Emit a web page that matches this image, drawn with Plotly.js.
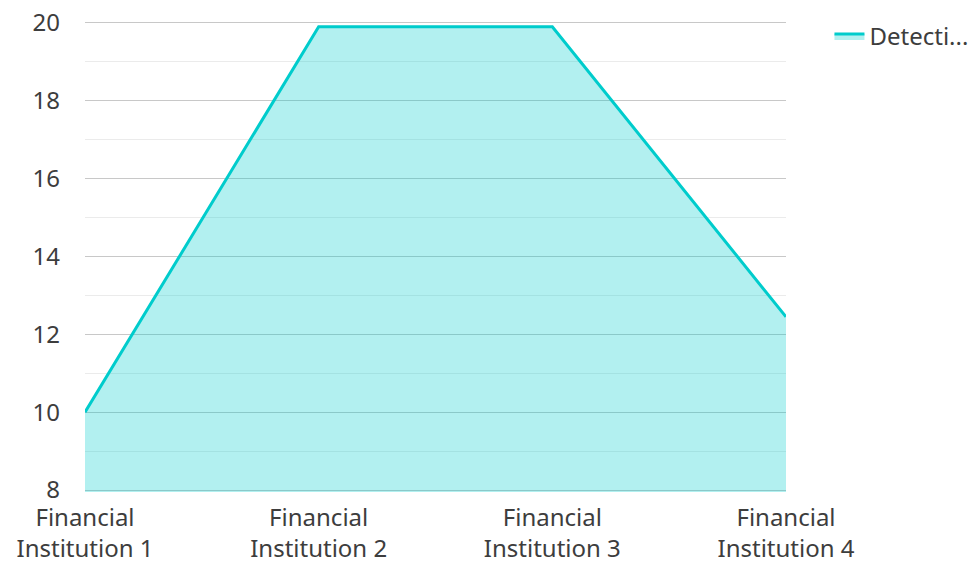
<!DOCTYPE html>
<html>
<head>
<meta charset="utf-8">
<script src="https://cdn.plot.ly/plotly-3.0.1.min.js"></script>
<style>html,body{margin:0;padding:0;background:#fff;}#chart{width:973px;height:562px;}</style>
</head>
<body>
<div id="chart"></div>
<script>
const categories = ["Financial<br>Institution 1", "Financial<br>Institution 2", "Financial<br>Institution 3", "Financial<br>Institution 4"];
const detectionValues = [10, 19.9, 19.9, 12.45];
const seriesName = "Detecti...";
const yTickVals = [8, 10, 12, 14, 16, 18, 20];

const trace = {
  x: categories,
  y: detectionValues,
  type: "scatter",
  mode: "lines",
  name: seriesName,
  fill: "tozeroy",
  fillcolor: "rgba(0,204,204,0.3)",
  line: {color: "#00cccc", width: 3}
};

const layout = {
  width: 973,
  height: 562,
  margin: {l: 85, r: 187, t: 21, b: 70, autoexpand: false},
  paper_bgcolor: "#ffffff",
  plot_bgcolor: "#ffffff",
  font: {family: "Noto Sans, Open Sans, sans-serif", size: 24, color: "#3d3d3d"},
  showlegend: true,
  legend: {x: 1.062, y: 1.015, xanchor: "left", yanchor: "top", font: {size: 24, color: "#3d3d3d"}},
  xaxis: {
    type: "category",
    range: [0, 3],
    automargin: false,
    showgrid: false,
    zeroline: false,
    showline: false,
    ticks: "",
    ticklabelstandoff: 9,
    tickfont: {size: 24, color: "#3d3d3d"}
  },
  yaxis: {
    range: [7.95, 20.05],
    tickvals: yTickVals,
    automargin: false,
    showgrid: true,
    gridcolor: "#c8c8c8",
    gridwidth: 1,
    zeroline: false,
    showline: false,
    ticks: "",
    ticklen: 0,
    ticklabelstandoff: 24,
    tickfont: {size: 24, color: "#3d3d3d"},
    minor: {dtick: 1, tick0: 8, showgrid: true, gridcolor: "#ebebeb", gridwidth: 1}
  }
};

Plotly.newPlot("chart", [trace], layout, {displayModeBar: false, staticPlot: true});
</script>
</body>
</html>
